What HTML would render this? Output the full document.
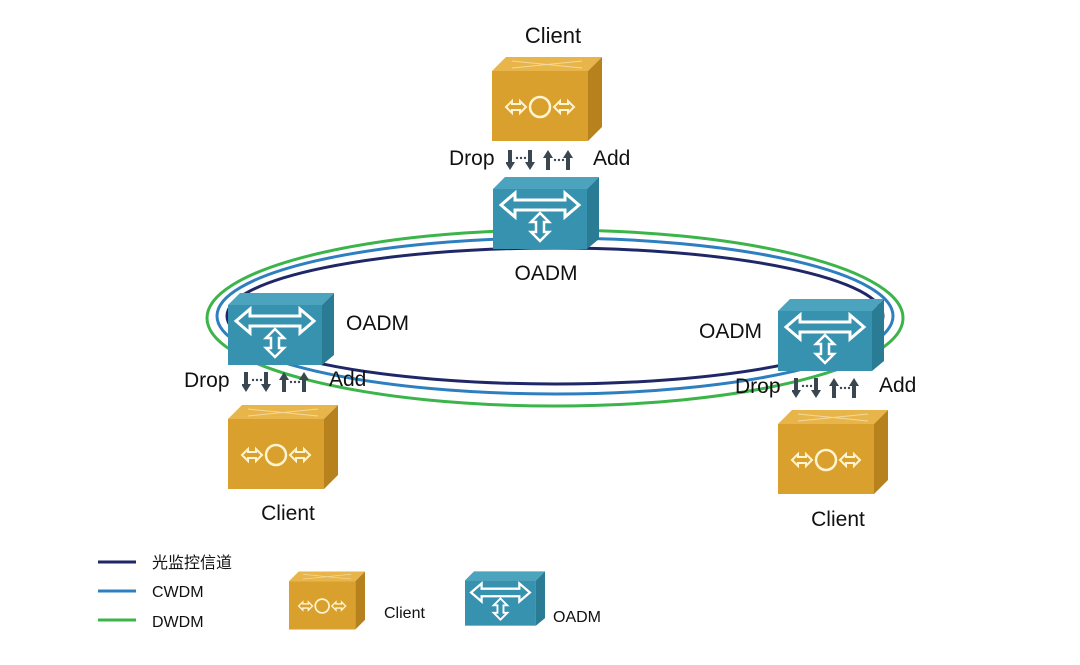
<!DOCTYPE html>
<html><head><meta charset="utf-8"><style>
html,body{margin:0;padding:0;background:#fff;}
svg{display:block;}
text{font-family:"Liberation Sans","Noto Sans CJK SC",sans-serif;fill:#111;}
</style></head><body>
<svg width="1080" height="665" viewBox="0 0 1080 665" xmlns="http://www.w3.org/2000/svg">
<defs>
<symbol id="client" viewBox="0 0 110 84">
  <polygon points="0,14 14,0 110,0 96,14" fill="#E8B54A"/>
  <polygon points="96,14 110,0 110,70 96,84" fill="#B7821E"/>
  <rect x="0" y="14" width="96" height="70" fill="#D9A02E"/>
  <path d="M20,4 L90,11 M90,4 L20,11" stroke="#f3d89a" stroke-width="1" fill="none"/>
  <circle cx="48" cy="50" r="10" fill="none" stroke="#fff4d0" stroke-width="2.5"/>
  <path d="M14,50 l6,-6 v3 h8 v-3 l6,6 l-6,6 v-3 h-8 v3 z M62,50 l6,-6 v3 h8 v-3 l6,6 l-6,6 v-3 h-8 v3 z" fill="none" stroke="#fff4d0" stroke-width="2"/>
</symbol>
<symbol id="oadm" viewBox="0 0 106 72">
  <polygon points="0,12 12,0 106,0 94,12" fill="#4BA3BE"/>
  <polygon points="94,12 106,0 106,62 94,72" fill="#2A7C95"/>
  <rect x="0" y="12" width="94" height="60" fill="#3692AE"/>
  <path d="M8,28 l14,-12 v7 h50 v-7 l14,12 l-14,12 v-7 h-50 v7 z" fill="none" stroke="#fff" stroke-width="3"/>
  <path d="M47,36 l9,9 h-5 v10 h5 l-9,9 l-9,-9 h5 v-10 h-5 z" fill="none" stroke="#fff" stroke-width="2.5"/>
</symbol>
<symbol id="arrows" viewBox="0 0 70 24">
  <g fill="#3a4650">
    <rect x="2" y="2" width="4" height="14"/><polygon points="-1,14 9,14 4,22"/>
    <rect x="22" y="2" width="4" height="14"/><polygon points="19,14 29,14 24,22"/>
    <rect x="40" y="8" width="4" height="14"/><polygon points="37,10 47,10 42,2"/>
    <rect x="60" y="8" width="4" height="14"/><polygon points="57,10 67,10 62,2"/>
    <circle cx="11" cy="10" r="1.2"/><circle cx="15" cy="10" r="1.2"/><circle cx="19" cy="10" r="1.2"/>
    <circle cx="49" cy="12" r="1.2"/><circle cx="53" cy="12" r="1.2"/><circle cx="57" cy="12" r="1.2"/>
  </g>
</symbol>
</defs>

<ellipse cx="555" cy="318" rx="348" ry="88" fill="none" stroke="#3BB44A" stroke-width="3"/>
<ellipse cx="555" cy="316" rx="338" ry="78" fill="none" stroke="#2E7FC0" stroke-width="3"/>
<ellipse cx="555" cy="316" rx="328" ry="68" fill="none" stroke="#1F2767" stroke-width="3"/>

<!-- top -->
<text x="553" y="43" font-size="22" text-anchor="middle">Client</text>
<use href="#client" x="492" y="57" width="110" height="84"/>
<text x="449" y="165" font-size="21">Drop</text>
<use href="#arrows" x="506" y="148" width="70" height="24"/>
<text x="593" y="165" font-size="21">Add</text>
<use href="#oadm" x="493" y="177" width="106" height="72"/>
<text x="546" y="280" font-size="21" text-anchor="middle">OADM</text>

<!-- left -->
<use href="#oadm" x="228" y="293" width="106" height="72"/>
<text x="346" y="330" font-size="21">OADM</text>
<text x="184" y="387" font-size="21">Drop</text>
<use href="#arrows" x="242" y="370" width="70" height="24"/>
<text x="329" y="386" font-size="21">Add</text>
<use href="#client" x="228" y="405" width="110" height="84"/>
<text x="288" y="520" font-size="21" text-anchor="middle">Client</text>

<!-- right -->
<use href="#oadm" x="778" y="298" width="106" height="74"/>
<text x="699" y="338" font-size="21">OADM</text>
<text x="735" y="393" font-size="21">Drop</text>
<use href="#arrows" x="792" y="376" width="70" height="24"/>
<text x="879" y="392" font-size="21">Add</text>
<use href="#client" x="778" y="410" width="110" height="84"/>
<text x="838" y="526" font-size="21" text-anchor="middle">Client</text>

<!-- legend -->
<line x1="98" y1="562" x2="136" y2="562" stroke="#1F2767" stroke-width="3"/>
<line x1="98" y1="591" x2="136" y2="591" stroke="#2E7FC0" stroke-width="3"/>
<line x1="98" y1="620" x2="136" y2="620" stroke="#3BB44A" stroke-width="3"/>
<text x="152" y="568" font-size="16">光监控信道</text>
<text x="152" y="597" font-size="16">CWDM</text>
<text x="152" y="627" font-size="16">DWDM</text>
<use href="#client" x="289" y="571" width="76" height="59"/>
<text x="384" y="618" font-size="16">Client</text>
<use href="#oadm" x="465" y="570" width="80" height="57"/>
<text x="553" y="622" font-size="16">OADM</text>
</svg>
</body></html>
